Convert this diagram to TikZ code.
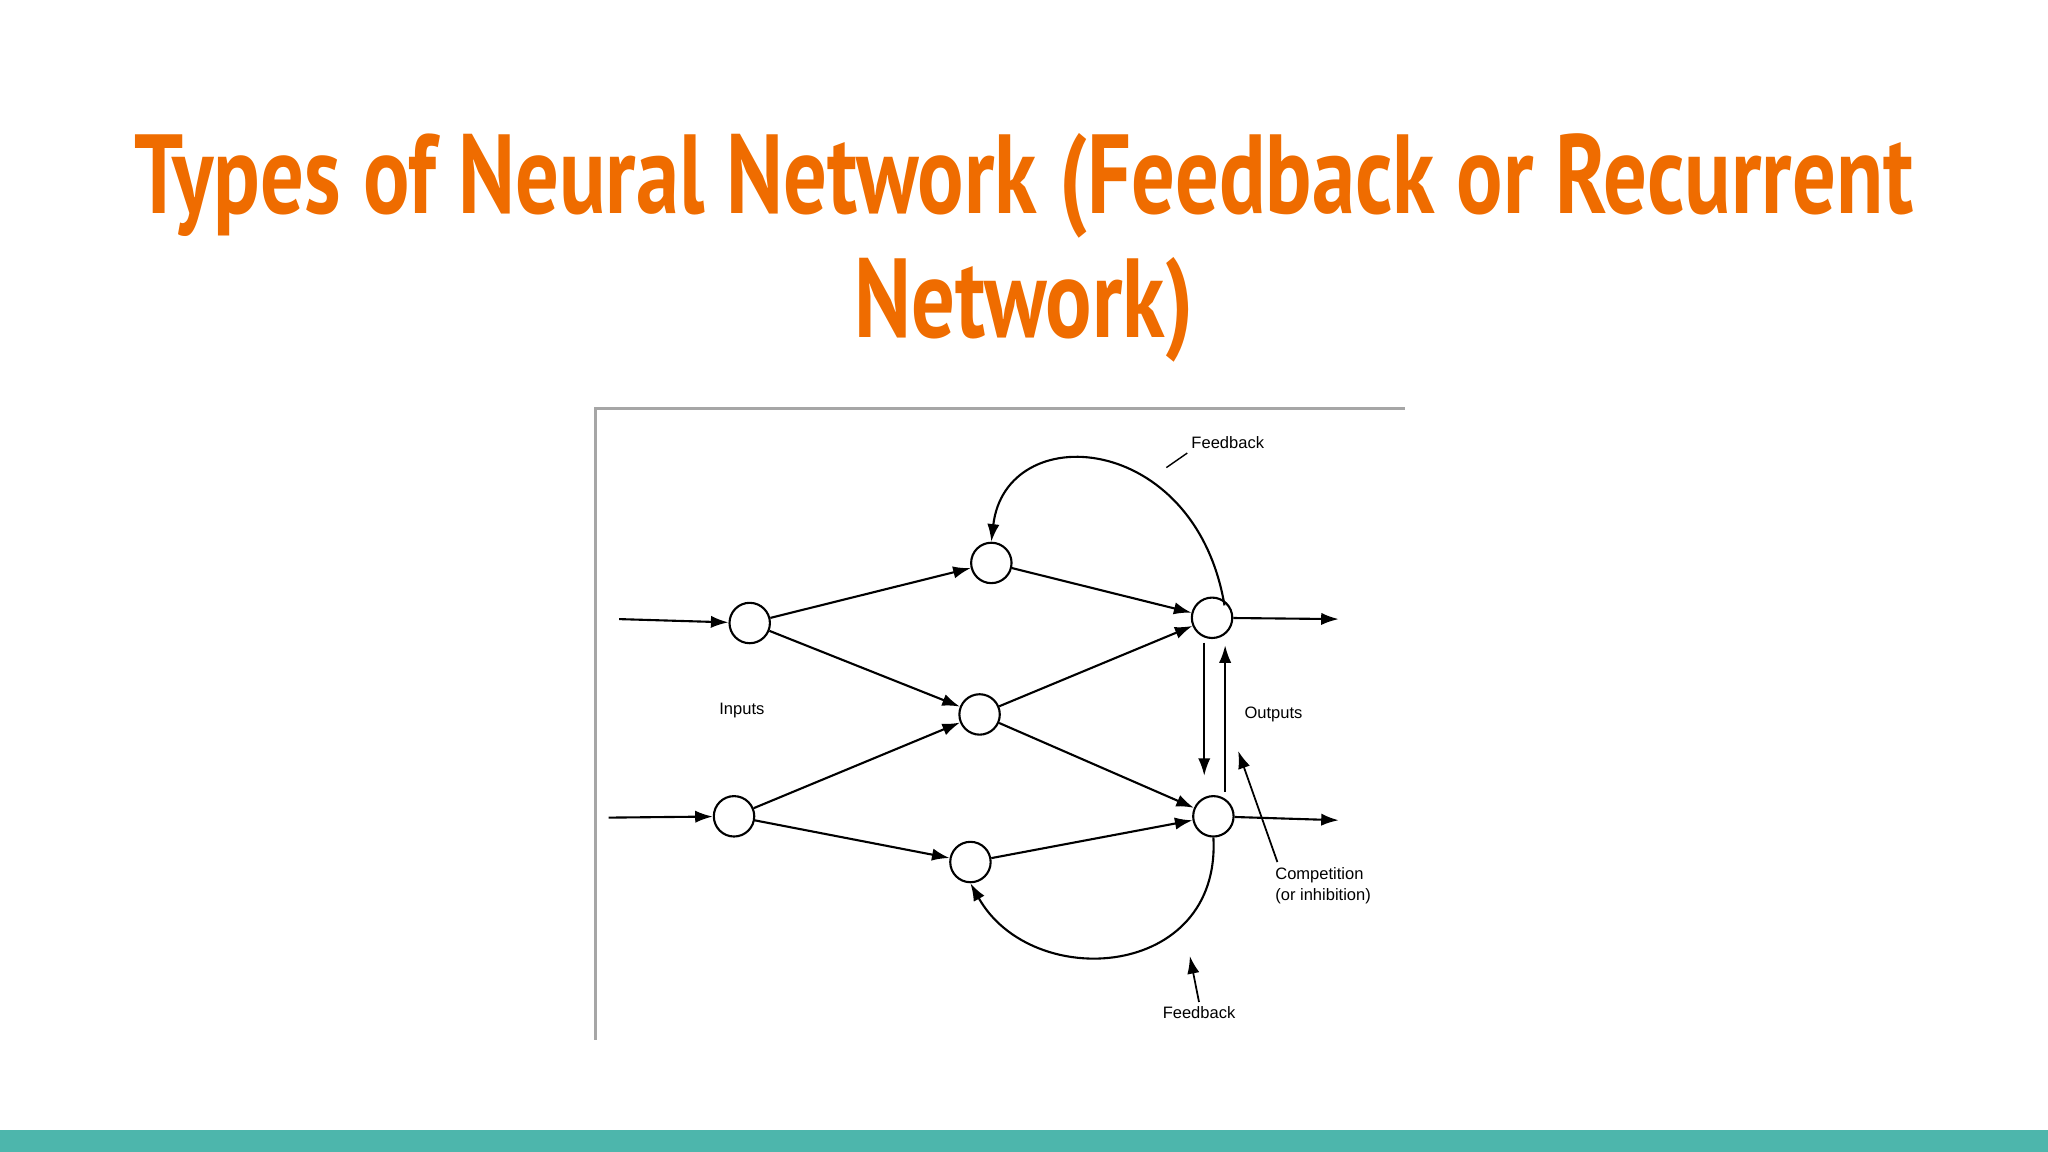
\documentclass[tikz,border=0pt]{standalone}
\usepackage{fontspec}
\setmainfont{PT Sans}
\newfontfamily\lab{Liberation Sans}
\usetikzlibrary{arrows.meta}
\definecolor{ttl}{HTML}{EF6C00}
\definecolor{bar}{HTML}{4DB6AC}
\begin{document}
\begin{tikzpicture}[x=0.01306cm,y=-0.01306cm,
  n/.style={draw,circle,inner sep=0pt,minimum width=11.5pt,line width=0.6pt},
  ar/.style={-{Latex[length=5pt,width=3.5pt]},line width=0.6pt},
  lb/.style={font=\lab\fontsize{4.7}{5.8}\selectfont,align=left,inner sep=1pt}]
\useasboundingbox (0,0) rectangle (1568,882);
\fill[bar] (0,865) rectangle (1568,882);
\node[text=ttl,font=\bfseries\fontsize{32}{36}\selectfont] (t1) at (784,142) {\scalebox{0.77}[1]{Types of Neural Network (Feedback or Recurrent}};
\node[text=ttl,font=\bfseries\fontsize{32}{36}\selectfont] (t2) at (784,237) {\scalebox{0.77}[1]{Network)}};
\draw[gray!70,line width=0.8pt] (456,796) -- (456,313) -- (1076,313);
\node[n] (i1) at (574,477) {};
\node[n] (i2) at (562,625) {};
\node[n] (h1) at (759,431) {};
\node[n] (h2) at (750,547) {};
\node[n] (h3) at (743,660) {};
\node[n] (o1) at (928,473) {};
\node[n] (o2) at (929,625) {};
\coordinate (a1) at (474,474); \coordinate (a2) at (466,626);
\coordinate (b1) at (1025,474); \coordinate (b2) at (1025,628);
\draw[ar] (a1) -- (i1); \draw[ar] (a2) -- (i2);
\draw[ar] (o1) -- (b1); \draw[ar] (o2) -- (b2);
\foreach \s/\t in {i1/h1,i1/h2,i2/h2,i2/h3,h1/o1,h2/o1,h2/o2,h3/o2}
  \draw[ar] (\s) -- (\t);
\coordinate (v1) at (922,492); \coordinate (v2) at (922,594);
\coordinate (u1) at (938,606); \coordinate (u2) at (938,494);
\draw[ar] (v1) -- (v2);
\draw[ar] (u1) -- (u2);
\draw[ar] (o1.north east) ++(-2,2) .. controls (915,330) and (770,320) .. (h1.north);
\draw[ar] (o2.south) .. controls (935,750) and (790,760) .. (h3.south);
\node[lb] (f1) at (940,339) {Feedback};
\coordinate (f1l) at (893,358);
\draw[line width=0.4pt] (f1.south west) -- (f1l);
\node[lb] (in) at (568,544) {Inputs};
\node[lb] (out) at (975,547) {Outputs};
\node[lb] (cp) at (1013,678) {Competition\\(or inhibition)};
\coordinate (cpa) at (978,660);
\draw[ar,line width=0.5pt] (cpa) -- (948,575);
\node[lb] (f2) at (918,775) {Feedback};
\draw[ar,line width=0.5pt] (f2.north) -- (911,732);
\end{tikzpicture}
\end{document}
